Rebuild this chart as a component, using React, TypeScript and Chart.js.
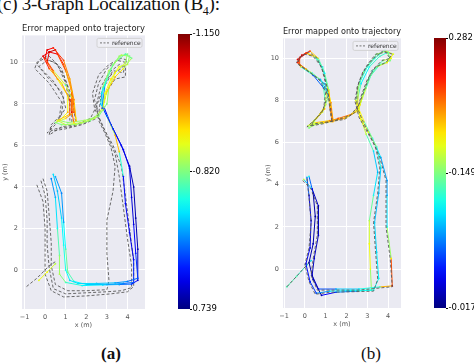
import React, { useEffect, useRef } from "react";
import { Chart, registerables } from "chart.js";
Chart.register(...registerables);

// ---------- ticks / labels ----------
const xTicks = [-1, 0, 1, 2, 3, 4];
const yTicks = [0, 2, 4, 6, 8, 10];
const plotTitle = "Error mapped onto trajectory";
const legendLabel = "reference";
const xAxisTitle = "x (m)";
const yAxisTitle = "y (m)";
const cbTickPos = [0, 0.5, 1];
const cbLabelsA = ["0.739", "-0.820", "-1.150"];
const cbLabelsB = ["-0.017", "-0.149", "0.282"];

// ---------- panel (a) reference trajectories [x, y] ----------
const refA1 = [[-0.2,4.3],[0.0,3.6],[0.1,2.4],[0.1,1.2],[0.2,0.1],[0.4,-0.9],[1.0,-1.15],[2.0,-1.1],[3.0,-1.05],[3.7,-1.0],[4.2,-0.85],[4.2,0.2],[4.0,1.5],[3.8,3.0],[3.6,4.5],[3.4,5.6],[3.0,6.5],[2.6,7.4],[2.4,8.2],[2.6,9.0],[3.0,9.7],[3.5,10.1],[3.9,10.0],[3.8,9.5],[3.3,9.6],[2.9,9.0],[2.7,8.3],[2.6,7.5],[2.0,7.1],[1.2,6.9],[0.5,6.8],[0.1,6.6],[0.5,7.0],[0.8,7.5],[0.9,8.3],[0.4,9.1],[-0.4,9.9],[-0.2,10.2],[0.2,10.3],[0.8,9.7],[1.1,8.8],[1.3,7.8],[1.3,7.1]];
const refA2 = [[-0.4,4.1],[-0.1,3.3],[0.0,2.0],[0.0,0.9],[0.0,-0.2],[0.3,-1.0],[0.9,-1.3],[2.0,-1.25],[3.2,-1.15],[4.0,-1.05],[4.3,-0.8],[4.3,0.4],[4.1,2.0],[3.9,3.6],[3.7,5.0],[3.3,6.0],[2.8,6.9],[2.4,7.8],[2.3,8.5],[2.6,9.4],[3.1,9.9],[3.7,10.2],[4.0,10.1],[3.7,9.7],[3.2,9.4],[2.8,8.7],[2.5,7.9],[2.2,7.3],[1.5,7.0],[0.8,6.9],[0.2,6.5],[0.3,7.0],[0.7,7.4],[0.8,8.1],[0.2,9.0],[-0.5,9.7],[-0.4,10.0],[0.0,10.2],[0.6,9.9],[1.0,9.0],[1.2,8.0],[1.2,7.2]];
const refA3 = [[-0.1,4.4],[0.1,3.8],[0.2,2.6],[0.3,1.3],[0.3,0.2],[0.5,-0.7],[1.1,-1.0],[2.0,-1.0],[3.0,-0.95],[3.1,-0.5],[3.0,0.8],[3.0,2.4],[3.3,3.8],[3.4,5.0],[3.2,5.9],[2.9,6.6],[2.6,7.2],[2.5,8.0],[2.7,8.8],[3.1,9.5],[3.6,9.9],[3.9,9.8],[3.9,9.3],[3.4,9.2],[3.0,8.6],[2.8,7.9],[2.5,7.3],[1.8,7.0],[1.0,6.8],[0.4,6.7],[0.2,6.8],[0.6,7.2],[1.0,7.8],[0.8,8.6],[0.1,9.3],[-0.3,9.8],[0.1,10.1],[0.5,10.0],[0.9,9.4],[1.2,8.6],[1.4,7.7],[1.5,7.0]];
const refDiagA = [[-0.9,-0.8],[-0.4,-0.4],[0.2,0.2],[0.5,0.4]];

// ---------- panel (a) estimated trajectories [x, y, normalised error] ----------
const estA1 = [[0.4,4.6,0.35],[0.6,3.8,0.3],[0.8,2.5,0.35],[0.9,1.2,0.4],[1.0,0.0,0.4],[1.2,-0.5,0.35],[1.6,-0.65,0.35],[2.5,-0.65,0.33],[3.4,-0.62,0.3],[4.0,-0.55,0.25],[4.5,-0.4,0.2],[4.4,0.8,0.15],[4.3,2.2,0.1],[4.2,3.5,0.08],[4.1,4.9,0.1],[3.8,5.8,0.12],[3.3,6.8,0.15],[2.8,7.8,0.2],[2.75,8.5,0.35],[3.0,9.2,0.45],[3.3,9.9,0.5],[3.7,10.35,0.55],[4.1,10.3,0.5],[4.0,9.9,0.55],[3.6,9.8,0.6],[3.2,9.2,0.65],[2.9,8.5,0.6],[2.8,7.7,0.55],[2.2,7.2,0.5],[1.5,7.0,0.55],[0.8,7.0,0.5],[0.5,7.1,0.5],[1.0,7.3,0.65],[1.4,7.6,0.8],[1.3,8.3,0.7],[1.0,8.9,0.45],[0.4,9.6,0.75],[0.0,10.2,0.85],[0.1,10.6,0.9],[0.4,10.7,0.85],[0.9,10.1,0.8],[1.2,9.2,0.7],[1.4,8.2,0.75],[1.5,7.3,0.6]];
const estA2 = [[0.5,4.5,0.3],[0.8,3.7,0.25],[0.9,2.3,0.3],[1.0,1.0,0.45],[1.1,-0.1,0.5],[1.4,-0.55,0.4],[2.0,-0.7,0.35],[3.0,-0.7,0.3],[3.8,-0.65,0.25],[4.3,-0.6,0.2],[4.3,0.5,0.12],[4.1,1.8,0.1],[3.9,3.2,0.12],[3.8,4.5,0.15],[3.6,5.7,0.68],[3.4,6.5,0.7],[3.0,7.4,0.4],[2.7,8.0,0.3],[2.8,8.8,0.5],[3.1,9.6,0.55],[3.5,10.1,0.5],[3.9,10.4,0.45],[4.2,10.2,0.5],[3.8,9.7,0.6],[3.4,9.3,0.7],[3.0,8.6,0.65],[2.8,7.8,0.6],[2.4,7.3,0.55],[1.8,7.1,0.6],[1.0,7.0,0.55],[0.6,7.2,0.6],[1.2,7.5,0.75],[1.2,8.2,0.85],[0.8,9.0,0.6],[0.2,9.7,0.8],[-0.1,10.3,0.9],[0.2,10.5,0.92],[0.6,10.4,0.85],[1.0,9.6,0.75],[1.3,8.6,0.65],[1.3,7.6,0.9],[1.4,7.1,0.65]];
const estA3 = [[0.3,4.4,0.25],[0.5,3.5,0.3],[0.6,2.0,0.4],[0.7,0.7,0.5],[0.7,-0.2,0.55],[1.0,-0.6,0.45],[1.8,-0.75,0.38],[2.8,-0.72,0.35],[3.6,-0.7,0.28],[4.2,-0.68,0.18],[4.5,-0.5,0.08],[4.5,1.0,0.05],[4.4,2.5,0.04],[4.3,4.0,0.05],[4.1,5.0,0.06],[3.7,6.0,0.08],[3.2,7.0,0.1],[2.8,8.0,0.12],[2.9,8.9,0.4],[3.2,9.7,0.5],[3.6,10.3,0.52],[4.0,10.4,0.5],[3.9,10.0,0.55],[3.4,9.5,0.6],[3.1,8.8,0.55],[3.0,8.0,0.5],[2.6,7.4,0.5],[1.9,7.2,0.55],[1.1,7.1,0.5],[0.7,7.2,0.55],[1.1,7.6,0.7],[1.1,8.4,0.55],[0.6,9.2,0.7],[0.1,10.0,0.85],[0.2,10.5,0.95],[0.5,10.6,0.9],[0.9,9.9,0.8],[1.2,9.0,0.75],[1.4,8.0,0.85],[1.5,7.2,0.7]];
const estDiagA = [[-0.3,-0.5,0.6],[0.1,-0.1,0.62],[0.5,0.3,0.55]];

// ---------- panel (b) reference trajectories ----------
const refB1 = [[0.1,4.3],[0.2,3.4],[0.3,2.2],[0.2,1.0],[0.0,0.2],[0.2,-0.6],[0.5,-1.2],[1.2,-1.1],[2.2,-1.08],[3.3,-1.05],[3.5,-0.5],[3.4,0.8],[3.3,2.2],[3.5,3.6],[3.6,4.8],[3.4,5.8],[3.0,6.5],[2.6,7.2],[2.4,8.0],[2.6,8.9],[3.0,9.7],[3.4,10.2],[3.9,10.3],[4.2,10.2],[3.9,9.8],[3.4,9.6],[3.0,9.0],[2.7,8.2],[2.5,7.5],[1.9,7.1],[1.2,7.0],[0.5,6.9],[0.1,6.75],[0.5,7.1],[0.9,7.6],[1.0,8.4],[0.7,9.0],[0.0,9.5],[-0.4,9.8],[-0.2,10.1],[0.2,10.3],[0.6,10.0],[0.9,9.3],[1.1,8.5],[1.2,7.6],[1.3,7.0]];
const refB2 = [[-0.1,4.2],[0.3,3.8],[0.6,3.0],[0.6,1.6],[0.4,0.5],[0.3,-0.3],[0.6,-1.0],[1.5,-1.0],[2.6,-1.0],[3.6,-0.9],[4.2,-0.84],[4.1,0.5],[3.9,2.0],[3.9,3.5],[3.9,4.2],[3.6,5.3],[3.2,6.2],[2.8,7.0],[2.5,7.7],[2.5,8.6],[2.8,9.4],[3.3,10.0],[3.8,10.4],[4.1,10.0],[3.7,9.9],[3.2,9.4],[2.9,8.6],[2.6,7.8],[2.2,7.3],[1.6,7.1],[0.9,6.9],[0.3,6.8],[0.4,7.0],[0.8,7.4],[1.1,8.2],[0.9,8.8],[0.3,9.3],[-0.3,9.7],[-0.3,10.0],[0.0,10.2],[0.4,10.1],[0.8,9.6],[1.0,8.8],[1.2,7.9],[1.3,7.1]];
const refDiagB = [[-0.86,-0.84],[-0.4,-0.35],[0.1,0.2],[0.3,0.4]];

// ---------- panel (b) estimated trajectories ----------
const estB1 = [[0.1,4.35,0.3],[0.2,3.5,0.12],[0.3,2.3,0.08],[0.25,1.0,0.1],[0.05,0.25,0.12],[0.25,-0.6,0.15],[0.55,-1.15,0.2],[1.2,-1.05,0.35],[2.2,-1.02,0.38],[3.3,-1.0,0.4],[3.55,-0.45,0.38],[3.45,0.8,0.35],[3.35,2.2,0.33],[3.55,3.6,0.3],[3.65,4.8,0.35],[3.45,5.8,0.45],[3.05,6.5,0.6],[2.65,7.2,0.65],[2.45,8.0,0.6],[2.65,8.9,0.4],[3.05,9.7,0.45],[3.45,10.2,0.5],[3.9,10.35,0.55],[4.25,10.2,0.6],[3.95,9.8,0.65],[3.45,9.6,0.5],[3.05,9.0,0.45],[2.75,8.2,0.55],[2.55,7.5,0.65],[1.9,7.15,0.7],[1.2,7.05,0.75],[0.5,6.95,0.6],[0.15,6.8,0.55],[0.55,7.15,0.65],[0.95,7.6,0.7],[1.05,8.4,0.45],[0.75,9.0,0.3],[0.05,9.5,0.7],[-0.35,9.8,0.85],[-0.15,10.15,0.9],[0.25,10.35,0.8],[0.65,10.0,0.55],[0.95,9.3,0.35],[1.15,8.5,0.6],[1.25,7.6,0.8],[1.35,7.0,0.7]];
const estB2 = [[-0.05,4.25,0.55],[0.35,3.8,0.1],[0.65,3.0,0.05],[0.65,1.6,0.06],[0.45,0.5,0.08],[0.35,-0.3,0.05],[0.65,-0.95,0.1],[1.5,-0.95,0.3],[2.6,-0.95,0.35],[3.6,-0.85,0.45],[4.2,-0.8,0.95],[4.15,0.5,0.65],[3.95,2.0,0.4],[3.95,3.5,0.3],[3.95,4.2,0.28],[3.65,5.3,0.3],[3.25,6.2,0.4],[2.85,7.0,0.55],[2.55,7.7,0.7],[2.55,8.6,0.6],[2.85,9.4,0.45],[3.35,10.0,0.4],[3.85,10.4,0.45],[4.15,10.0,0.6],[3.75,9.9,0.5],[3.25,9.4,0.4],[2.95,8.6,0.5],[2.65,7.8,0.65],[2.25,7.35,0.72],[1.6,7.15,0.8],[0.9,6.95,0.65],[0.35,6.85,0.5],[0.45,7.05,0.55],[0.85,7.45,0.6],[1.15,8.2,0.4],[0.95,8.8,0.3],[0.35,9.3,0.4],[-0.25,9.7,0.75],[-0.25,10.05,0.85],[0.05,10.25,0.8],[0.45,10.1,0.55],[0.85,9.6,0.35],[1.05,8.8,0.5],[1.25,7.9,0.75],[1.35,7.1,0.65]];
const estB3 = [[0.2,4.4,0.4],[0.4,3.6,0.05],[0.5,2.5,0.03],[0.4,1.2,0.05],[0.2,0.3,0.04],[0.4,-0.5,0.03],[0.8,-1.25,0.05],[1.5,-1.1,0.2],[2.5,-1.05,0.3],[3.2,-1.0,0.45],[3.15,0.0,0.6],[3.1,1.2,0.62],[3.1,2.3,0.55],[3.3,3.5,0.4],[3.5,4.6,0.3],[3.3,5.6,0.35],[2.95,6.4,0.55],[2.7,7.1,0.6],[2.5,7.9,0.55],[2.7,8.8,0.35],[3.1,9.6,0.4],[3.6,10.1,0.45],[4.0,10.3,0.4],[4.1,9.9,0.5],[3.6,9.7,0.45],[3.1,9.1,0.4],[2.8,8.3,0.5],[2.6,7.6,0.6],[2.0,7.2,0.65],[1.3,7.0,0.7],[0.6,6.9,0.55],[0.2,6.7,0.5],[0.6,7.2,0.6],[1.0,7.8,0.65],[0.9,8.6,0.25],[0.4,9.2,0.2],[-0.2,9.6,0.65],[-0.35,9.95,0.9],[0.1,10.25,0.85],[0.55,10.05,0.5],[0.9,9.4,0.3],[1.1,8.6,0.5],[1.2,7.7,0.75],[1.3,7.05,0.7]];
const estDiagB = [[-0.86,-0.84,0.45],[-0.4,-0.35,0.45],[0.1,0.2,0.4],[0.3,0.4,0.35]];

// ---------- helpers ----------
const clamp = (v: number) => Math.max(0, Math.min(1, v));
function jet(t: number, a = 1) {
  const r = clamp(1.5 - Math.abs(4 * t - 3));
  const g = clamp(1.5 - Math.abs(4 * t - 2));
  const b = clamp(1.5 - Math.abs(4 * t - 1));
  return `rgba(${Math.round(r * 255)},${Math.round(g * 255)},${Math.round(b * 255)},${a})`;
}
const fmtTick = (v: number) => (v < 0 ? "\u2212" + Math.abs(v) : String(v));
const FONT = "'DejaVu Sans', sans-serif";

const bgPlugin = {
  id: "bg",
  beforeDraw(chart: any) {
    const { ctx, chartArea: a } = chart;
    ctx.save();
    ctx.fillStyle = "#EAEAF2";
    ctx.fillRect(a.left, a.top, a.right - a.left, a.bottom - a.top);
    ctx.restore();
  },
};

const legendBoxPlugin = {
  id: "legendBox",
  afterDatasetsDraw(chart: any) {
    const { ctx, chartArea: a } = chart;
    const w = 45, h = 9;
    const x = a.right - w - 3, y = a.top + 3;
    ctx.save();
    ctx.fillStyle = "rgba(240,240,246,0.85)";
    ctx.strokeStyle = "#cccccc";
    ctx.lineWidth = 0.8;
    ctx.beginPath();
    (ctx as any).roundRect ? ctx.roundRect(x, y, w, h, 1.5) : ctx.rect(x, y, w, h);
    ctx.fill();
    ctx.stroke();
    ctx.strokeStyle = "#666";
    ctx.setLineDash([2, 1.5]);
    ctx.lineWidth = 0.9;
    ctx.beginPath();
    ctx.moveTo(x + 3, y + h / 2);
    ctx.lineTo(x + 12, y + h / 2);
    ctx.stroke();
    ctx.setLineDash([]);
    ctx.fillStyle = "#333";
    ctx.font = `6px ${FONT}`;
    ctx.textBaseline = "middle";
    ctx.fillText(legendLabel, x + 15, y + h / 2 + 0.3);
    ctx.restore();
  },
};

const gradPlugin = {
  id: "grad",
  beforeDatasetsDraw(chart: any) {
    const { ctx, chartArea: a } = chart;
    const g = ctx.createLinearGradient(0, a.bottom, 0, a.top);
    for (let i = 0; i <= 20; i++) g.addColorStop(i / 20, jet(i / 20));
    ctx.save();
    ctx.fillStyle = g;
    ctx.fillRect(a.left, a.top, a.right - a.left, a.bottom - a.top);
    ctx.restore();
  },
};

type PanelProps = {
  left: number; top: number; width: number; height: number;
  padRight: number; yAxisW: number; xAxisH: number;
  xMin: number; xMax: number; yMin: number; yMax: number;
  refs: number[][][]; ests: number[][][]; estOnTop: boolean;
};

function Panel(p: PanelProps) {
  const ref = useRef<HTMLCanvasElement>(null);
  useEffect(() => {
    const datasets: any[] = [];
    p.refs.forEach((r) => {
      datasets.push({
        data: r.map(([x, y]) => ({ x, y })),
        showLine: true,
        borderColor: "rgba(90,90,90,0.9)",
        borderWidth: 1,
        borderDash: [3, 2],
        pointRadius: 0,
        order: p.estOnTop ? 2 : 0,
      });
    });
    p.ests.forEach((e) => {
      const err = e.map((q) => q[2]);
      datasets.push({
        data: e.map(([x, y]) => ({ x, y })),
        showLine: true,
        borderWidth: 1,
        borderColor: jet(0.5),
        pointRadius: 0.9,
        pointBorderWidth: 0,
        pointBackgroundColor: err.map((v) => jet(v)),
        segment: {
          borderColor: (c: any) => jet((err[c.p0DataIndex] + err[c.p1DataIndex]) / 2),
        },
        order: p.estOnTop ? 0 : 2,
      });
    });
    const axisCommon = {
      type: "linear",
      grid: { color: "#ffffff", lineWidth: 1, drawTicks: false },
      border: { display: false },
      ticks: { font: { size: 6.5, family: FONT }, color: "#555", padding: 4, callback: (v: number) => fmtTick(v) },
    };
    const chart = new Chart(ref.current!, {
      type: "scatter",
      data: { datasets },
      options: {
        animation: false,
        responsive: false,
        maintainAspectRatio: false,
        layout: { padding: { top: 0, right: p.padRight, bottom: 0, left: 0 } },
        plugins: {
          legend: { display: false },
          tooltip: { enabled: false },
          title: {
            display: true, text: plotTitle, fullSize: false,
            font: { family: FONT, size: 9.5, weight: "normal" }, color: "#222",
            padding: { top: 5, bottom: 1 },
          },
        },
        scales: {
          x: {
            ...axisCommon, position: "bottom", min: p.xMin, max: p.xMax,
            afterBuildTicks: (s: any) => { s.ticks = xTicks.map((v) => ({ value: v })); },
            afterFit: (s: any) => { s.height = p.xAxisH; },
            title: { display: true, text: xAxisTitle, font: { size: 6.5, family: FONT }, color: "#555", padding: { top: 0, bottom: 2 } },
          },
          y: {
            ...axisCommon, position: "left", min: p.yMin, max: p.yMax,
            afterBuildTicks: (s: any) => { s.ticks = yTicks.map((v) => ({ value: v })); },
            afterFit: (s: any) => { s.width = p.yAxisW; },
            title: { display: true, text: yAxisTitle, font: { size: 6.5, family: FONT }, color: "#555", padding: { top: 1, bottom: 0 } },
          },
        },
      } as any,
      plugins: [bgPlugin, legendBoxPlugin],
    });
    return () => chart.destroy();
  }, []);
  return (
    <canvas ref={ref} width={p.width} height={p.height}
      style={{ position: "absolute", left: p.left, top: p.top, width: p.width, height: p.height }} />
  );
}

function ColorBar(p: { left: number; top: number; width: number; height: number; barW: number; pad: number; labels: string[] }) {
  const ref = useRef<HTMLCanvasElement>(null);
  useEffect(() => {
    const chart = new Chart(ref.current!, {
      type: "scatter",
      data: { datasets: [] },
      options: {
        animation: false,
        responsive: false,
        maintainAspectRatio: false,
        layout: { padding: { top: p.pad, bottom: p.pad, left: 0, right: 0 } },
        plugins: { legend: { display: false }, tooltip: { enabled: false } },
        scales: {
          x: { display: false, min: 0, max: 1 },
          y: {
            type: "linear", position: "right", min: 0, max: 1,
            afterBuildTicks: (s: any) => { s.ticks = cbTickPos.map((v) => ({ value: v })); },
            afterFit: (s: any) => { s.width = p.width - p.barW; },
            grid: { drawOnChartArea: false, drawTicks: true, tickLength: 2, color: "#000", lineWidth: 1 },
            border: { display: false },
            ticks: {
              font: { size: 8.5, family: FONT }, color: "#000", padding: 0.5,
              callback: (_v: number, i: number) => p.labels[i],
            },
          },
        },
      } as any,
      plugins: [gradPlugin],
    });
    return () => chart.destroy();
  }, []);
  return (
    <canvas ref={ref} width={p.width} height={p.height}
      style={{ position: "absolute", left: p.left, top: p.top, width: p.width, height: p.height }} />
  );
}

export default function App() {
  return (
    <div style={{ position: "fixed", left: 0, top: 0, width: 474, height: 363, overflow: "hidden", background: "#fff" }}>
      <div style={{ position: "absolute", left: -3, top: -7, whiteSpace: "nowrap", fontFamily: "'Liberation Serif', serif", fontSize: 19, letterSpacing: -0.25, color: "#111" }}>
        (c) 3-Graph Localization (B<sub style={{ fontSize: 12 }}>4</sub>):
      </div>
      <Panel left={0} top={18} width={150} height={313} padRight={5} yAxisW={22} xAxisH={22}
        xMin={-1.12} xMax={4.85} yMin={-1.88} yMax={11.3}
        refs={[refA1, refA2, refA3, refDiagA]} ests={[estA1, estA2, estA3, estDiagA]} estOnTop={true} />
      <ColorBar left={178} top={28} width={60} height={287} barW={12} pad={6} labels={cbLabelsA} />
      <Panel left={263} top={21} width={142} height={309} padRight={3} yAxisW={20} xAxisH={22}
        xMin={-1.05} xMax={4.62} yMin={-1.85} yMax={10.95}
        refs={[refB1, refB2, refDiagB]} ests={[estB1, estB2, estB3, estDiagB]} estOnTop={false} />
      <ColorBar left={434} top={32} width={40} height={282} barW={12} pad={6} labels={cbLabelsB} />
      <div style={{ position: "absolute", left: 101, top: 344, fontFamily: "'Liberation Serif', serif", fontSize: 17, fontWeight: "bold", color: "#111" }}>(a)</div>
      <div style={{ position: "absolute", left: 361, top: 344, fontFamily: "'Liberation Serif', serif", fontSize: 17, color: "#111" }}>(b)</div>
    </div>
  );
}
